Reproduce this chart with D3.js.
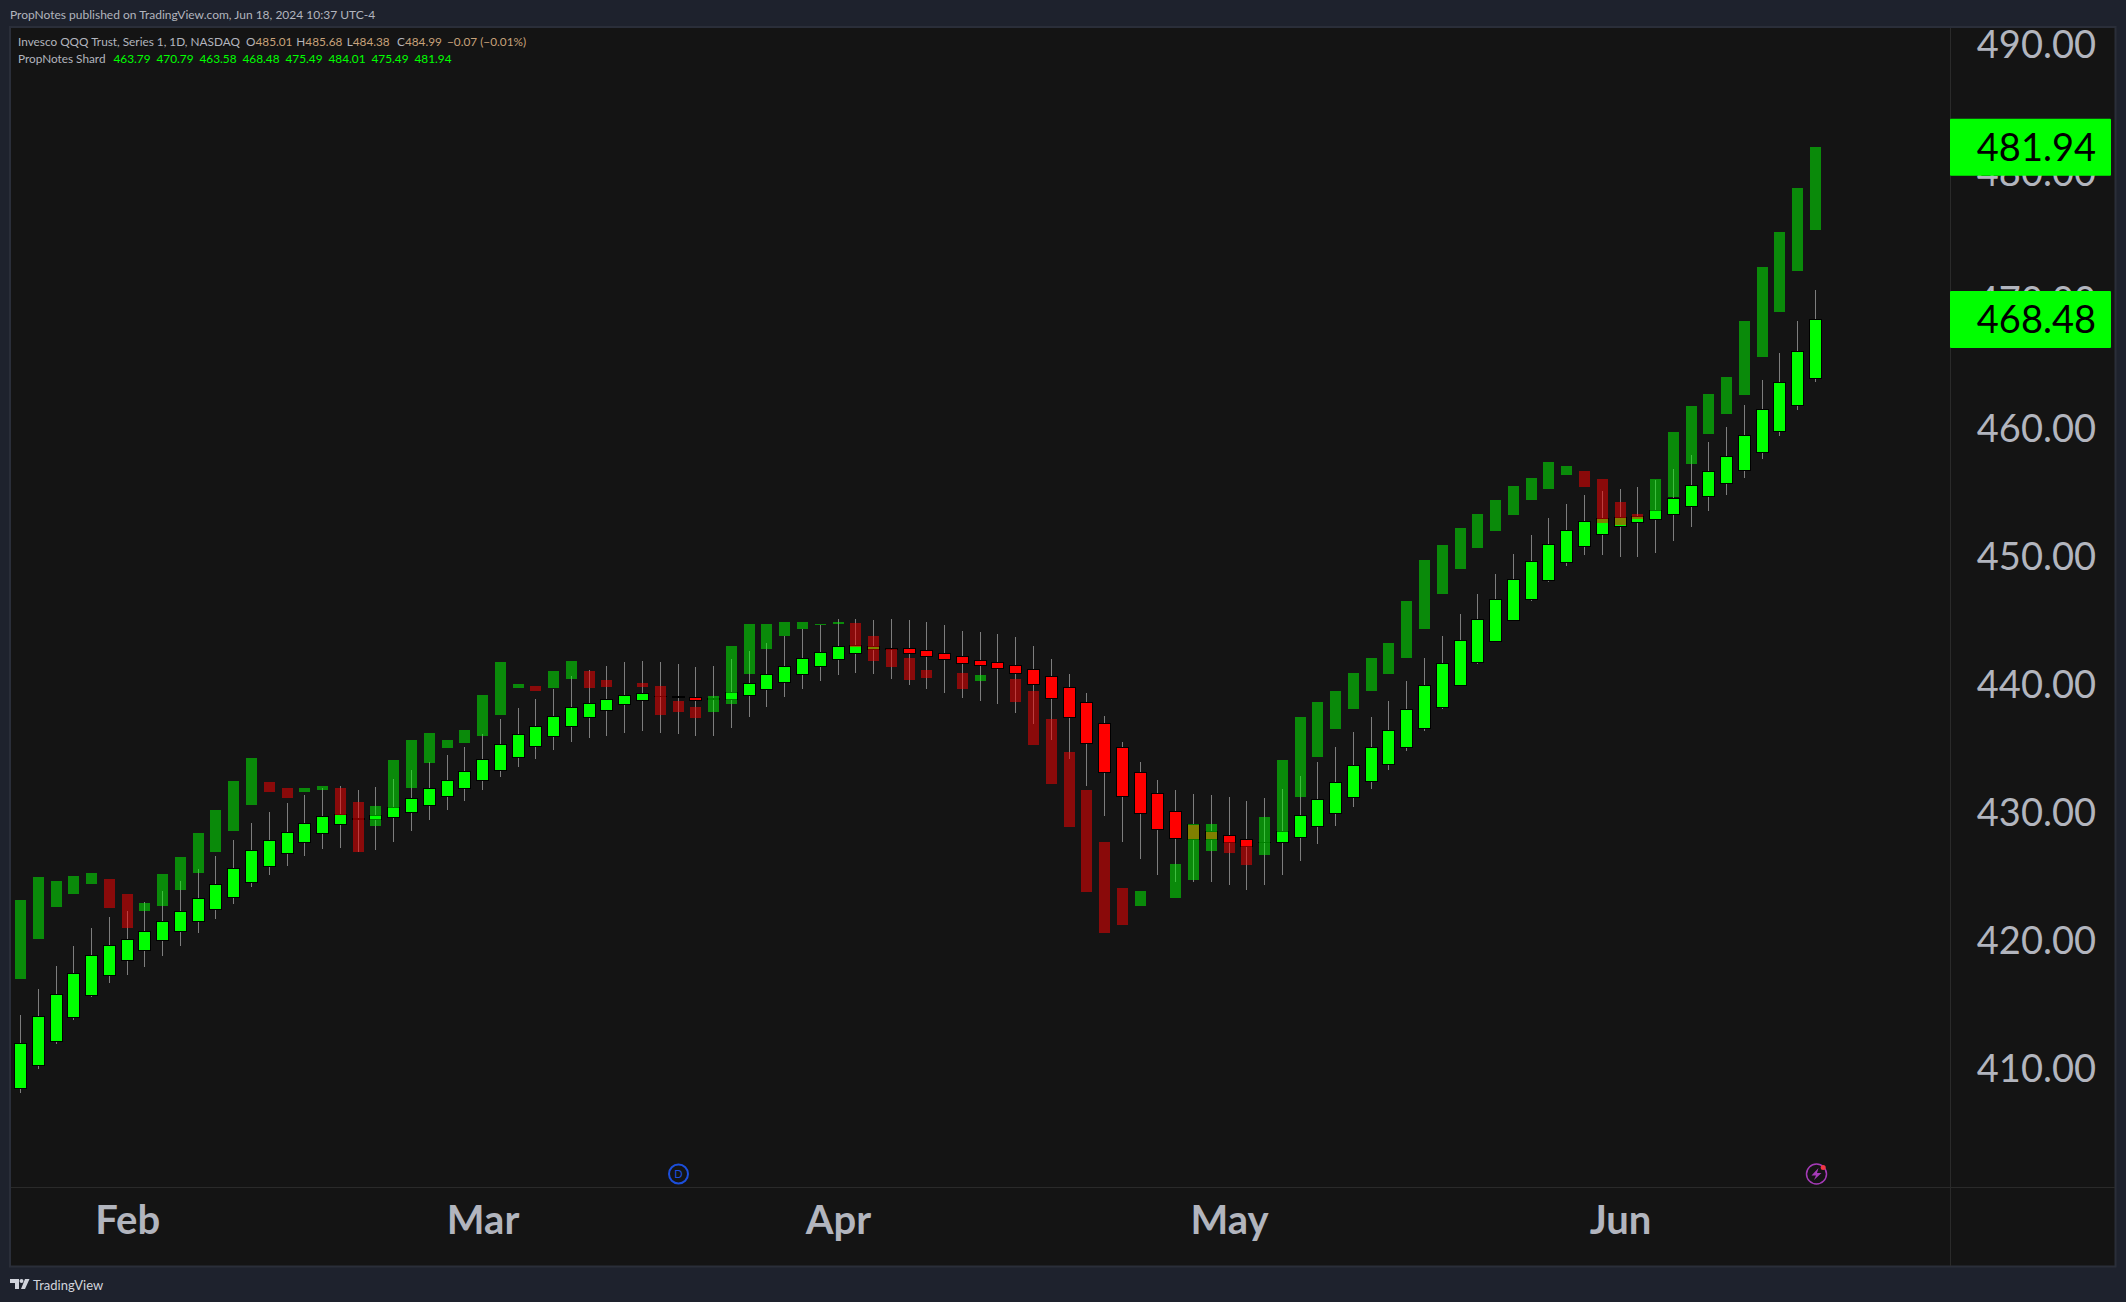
<!DOCTYPE html>
<html>
<head>
<meta charset="utf-8">
<script src="https://d3js.org/d3.v7.min.js"></script>
<style>
  html, body { margin: 0; padding: 0; background: #1e222d; }
  svg { display: block; }
  text { font-family: "Lato", sans-serif; }
</style>
</head>
<body>
<script>
// front candles (Jan 24 - Jun 18, one per trading day)
let frontOpen = [408.39,410.18,412.06,413.93,415.65,417.22,418.39,419.17,419.95,420.65,
  421.43,422.37,423.31,424.48,425.73,426.75,427.61,428.31,429.01,429.38,
  429.38,429.56,429.95,430.50,431.20,431.82,432.45,433.23,434.24,435.10,
  435.88,436.66,437.37,437.91,438.38,438.70,439.06,439.06,438.96,438.75,
  438.75,439.09,439.55,440.10,440.73,441.35,441.90,442.37,442.68,442.81,
  442.78,442.63,442.39,442.16,441.85,441.69,441.46,441.14,440.60,439.74,
  438.57,436.92,435.05,433.10,431.46,430.05,429.06,428.51,428.17,427.86,
  427.58,427.58,427.99,428.85,429.87,431.12,432.37,433.70,435.03,436.51,
  438.15,439.87,441.67,443.31,444.95,446.59,448.07,449.48,450.73,451.67,
  452.29,452.60,452.81,453.23,453.85,454.63,455.65,456.66,458.07,459.71,
  461.69,463.79];
let frontHigh = [414.14,416.17,417.97,419.53,420.94,421.80,422.27,422.97,423.83,424.61,
  425.55,426.56,427.81,429.14,430.00,430.71,431.33,431.88,432.03,431.72,
  431.96,432.58,433.28,433.91,434.45,435.08,436.09,437.26,438.12,438.83,
  439.61,440.62,441.09,441.40,441.72,441.79,441.72,441.56,441.33,441.40,
  441.95,442.58,443.20,443.75,444.29,444.61,445.08,445.08,445.00,445.08,
  445.00,444.84,444.61,444.14,444.06,443.90,443.67,442.97,441.95,440.78,
  439.29,437.50,435.47,433.90,432.50,431.72,431.40,431.33,431.17,430.86,
  431.09,431.79,432.81,433.90,435.08,436.25,437.42,438.67,440.23,442.03,
  443.75,445.47,447.03,448.59,450.16,451.64,452.97,454.06,454.77,455.08,
  455.23,455.39,455.94,456.79,457.89,458.90,460.08,461.79,463.75,465.86,
  468.36,470.79];
let frontLow = [408.08,409.92,411.88,413.75,415.55,416.64,417.27,417.89,418.75,419.53,
  420.55,421.64,422.81,424.14,425.08,425.78,426.56,427.11,427.19,426.88,
  427.03,427.66,428.52,429.38,430.15,430.86,431.72,432.73,433.51,434.14,
  434.84,435.47,435.78,435.93,436.17,436.33,436.17,436.09,435.93,435.93,
  436.56,437.42,438.20,438.98,439.61,440.23,440.70,440.86,440.78,440.39,
  439.92,439.61,439.29,438.90,438.67,438.43,437.73,436.87,435.62,434.14,
  432.03,429.68,427.65,426.33,425.08,424.53,424.53,424.53,424.29,423.90,
  424.29,425.08,426.17,427.50,428.91,430.39,431.80,433.28,434.77,436.33,
  438.05,439.87,441.56,443.31,444.95,446.48,447.97,449.22,450.08,450.08,
  449.92,449.92,450.23,451.17,452.26,453.51,454.76,456.09,457.58,459.37,
  461.40,463.58];
let frontClose = [411.93,414.04,415.76,417.40,418.80,419.59,420.05,420.68,421.46,422.24,
  423.26,424.35,425.60,427.01,427.79,428.41,429.12,429.66,429.82,429.53,
  429.77,430.39,431.07,431.85,432.47,433.17,434.11,435.28,436.07,436.69,
  437.47,438.17,438.49,438.80,439.11,439.27,438.98,438.90,438.67,438.90,
  439.35,440.08,440.78,441.38,442.00,442.47,442.94,443.02,442.97,442.68,
  442.37,442.13,441.90,441.59,441.43,441.20,440.80,439.95,438.85,437.37,
  435.34,433.07,431.20,429.87,428.62,427.91,427.81,427.81,427.58,427.26,
  427.65,428.51,429.74,430.99,432.32,433.65,435.05,436.38,438.02,439.90,
  441.61,443.41,445.05,446.61,448.18,449.58,450.91,452.01,452.71,452.94,
  453.05,453.12,453.57,454.50,455.52,456.61,457.78,459.42,461.46,463.57,
  465.99,468.48];

// second set of OHLC from the indicator, only the bodies are visible
let backOpen = [416.96,420.08,422.58,423.60,424.38,424.77,423.60,422.27,422.66,423.91,
  425.24,426.88,428.52,430.55,432.35,431.88,431.56,431.72,431.88,430.78,
  428.91,430.31,431.88,433.83,435.00,435.39,435.93,437.58,439.68,439.84,
  439.68,440.39,441.01,440.31,438.54,440.08,439.84,438.67,438.20,437.81,
  438.43,440.78,442.73,443.75,444.29,444.61,444.68,444.76,443.75,442.73,
  442.03,441.09,442.26,440.86,440.23,441.56,440.39,439.45,437.26,434.68,
  431.72,427.65,424.06,422.65,430.93,423.28,424.68,426.95,427.63,427.34,
  426.64,428.33,431.17,434.29,436.49,438.05,439.46,440.78,442.03,444.30,
  447.03,448.98,450.62,451.95,453.20,454.37,455.23,456.33,456.64,456.02,
  454.22,453.28,453.52,454.61,457.19,459.53,461.09,462.58,465.54,469.06,
  472.26,475.49];
let backClose = [423.13,424.92,424.61,425.00,425.24,422.50,420.94,422.89,425.16,426.49,
  428.36,430.16,432.42,434.22,431.56,431.10,431.88,432.03,429.77,426.88,
  430.47,434.06,435.63,436.17,435.62,436.40,439.14,441.72,440.00,439.45,
  441.01,441.79,439.68,439.76,438.96,439.76,437.58,437.81,437.34,439.06,
  442.97,444.68,444.68,444.84,444.84,444.68,444.84,442.89,441.79,441.33,
  440.31,440.47,442.00,439.61,440.70,441.33,438.59,435.23,432.18,428.83,
  423.75,420.54,421.17,423.83,429.11,425.93,429.06,429.06,426.79,425.86,
  429.61,434.06,437.42,438.59,439.46,440.86,442.03,443.20,446.48,449.69,
  450.86,452.19,453.28,454.37,455.47,456.09,457.34,457.03,455.39,452.58,
  452.42,452.89,456.02,459.68,461.72,462.65,463.98,468.36,472.58,475.31,
  478.75,481.94];

let priceTicks = [410, 420, 430, 440, 450, 460, 470, 480, 490];
let monthTicks = [6, 26, 46, 68, 90]; // bar index of the first trading day
let monthLabels = ["Feb", "Mar", "Apr", "May", "Jun"];
let lastPrices = [481.94, 468.48];

let titleText = "PropNotes published on TradingView.com, Jun 18, 2024 10:37 UTC-4";
let seriesName = "Invesco QQQ Trust, Series 1, 1D, NASDAQ";
let seriesLetters = ["O", "H", "L", "C"];
let seriesValues = ["485.01", "485.68", "484.38", "484.99"];
let seriesChange = "\u22120.07 (\u22120.01%)";
let shardName = "PropNotes Shard";
let shardValues = ["463.79", "470.79", "463.58", "468.48", "475.49", "484.01", "475.49", "481.94"];

let w = 2126;
let h = 1302;
let green = "#00ff00";
let red = "#ff0000";
let lineColor = "#2a2a2a";
let axisText = "#b2b5be";

let viz = d3.select("body").append("svg").attr("width", w).attr("height", h);

viz.append("rect").attr("width", w).attr("height", h).attr("fill", "#1e222d");
viz.append("rect")
    .attr("x", 10).attr("y", 27).attr("width", 2105.5).attr("height", 1239.5)
    .attr("fill", "#141414")
    .attr("stroke", "#2a2e39")
    .attr("stroke-width", 2);

viz.append("line").attr("x1", 11).attr("x2", 2115).attr("y1", 1187.5).attr("y2", 1187.5).attr("stroke", lineColor);
viz.append("line").attr("x1", 1950.5).attr("x2", 1950.5).attr("y1", 28).attr("y2", 1266).attr("stroke", lineColor);

let xScale = d3.scaleLinear().domain([0, 101]).range([20.5, 1815.5]);
let yScale = d3.scaleLinear().domain([410, 490]).range([1068, 44]);

let bars = frontOpen.map(function(d, i){ return i; });
let cx = i => Math.floor(xScale(i));
let py = p => Math.round(yScale(p));

// axes
let yAxis = d3.axisRight(yScale).tickValues(priceTicks).tickSize(0).tickFormat(d3.format(".2f"));
let yAxisGroup = viz.append("g").attr("transform", "translate(2096,0)").call(yAxis);
yAxisGroup.select(".domain").remove();
yAxisGroup.selectAll("text")
    .attr("x", 0)
    .attr("dy", "0.36em")
    .attr("text-anchor", "end")
    .attr("fill", axisText)
    .style("font-size", "38px");

let xAxis = d3.axisBottom(xScale).tickValues(monthTicks).tickSize(0)
    .tickFormat(function(d, i){ return monthLabels[i]; });
let xAxisGroup = viz.append("g").attr("transform", "translate(0,1198)").call(xAxis);
xAxisGroup.select(".domain").remove();
xAxisGroup.selectAll("text")
    .attr("fill", axisText)
    .attr("y", 0)
    .attr("dy", "0.9em")
    .style("font-size", "40px")
    .style("font-weight", "700");

// front candles
let front = viz.append("g");
front.selectAll(".wick").data(bars).enter().append("rect")
    .attr("class", "wick")
    .attr("x", d => cx(d))
    .attr("width", 1)
    .attr("y", d => py(frontHigh[d]))
    .attr("height", d => py(frontLow[d]) - py(frontHigh[d]))
    .attr("fill", "#7d7d7d");
front.selectAll(".edge").data(bars).enter().append("rect")
    .attr("class", "edge")
    .attr("x", d => cx(d) - 6)
    .attr("width", 13)
    .attr("y", d => py(Math.max(frontOpen[d], frontClose[d])))
    .attr("height", d => Math.max(1, py(Math.min(frontOpen[d], frontClose[d])) - py(Math.max(frontOpen[d], frontClose[d]))))
    .attr("fill", "#000000");
front.selectAll(".fillbody").data(bars).enter().append("rect")
    .attr("class", "fillbody")
    .attr("x", d => cx(d) - 5)
    .attr("width", 11)
    .attr("y", d => py(Math.max(frontOpen[d], frontClose[d])) + 1)
    .attr("height", d => Math.max(0, py(Math.min(frontOpen[d], frontClose[d])) - py(Math.max(frontOpen[d], frontClose[d])) - 2))
    .attr("fill", d => frontClose[d] >= frontOpen[d] ? green : red);

// the shard bodies sit on top, half see-through
viz.append("g").selectAll("rect").data(bars).enter().append("rect")
    .attr("x", d => cx(d) - 5)
    .attr("width", 11)
    .attr("y", d => py(Math.max(backOpen[d], backClose[d])))
    .attr("height", d => Math.max(1, py(Math.min(backOpen[d], backClose[d])) - py(Math.max(backOpen[d], backClose[d]))))
    .attr("fill", d => backClose[d] >= backOpen[d] ? green : red)
    .attr("fill-opacity", 0.5);

// last price tags
let tags = viz.append("g").selectAll("g").data(lastPrices).enter().append("g")
    .attr("transform", d => "translate(1950," + yScale(d) + ")");
tags.append("rect")
    .attr("y", -28.5).attr("width", 161).attr("height", 57).attr("rx", 1)
    .attr("fill", green);
tags.append("text")
    .attr("x", 146).attr("dy", "0.36em")
    .attr("text-anchor", "end")
    .attr("fill", "#000000")
    .style("font-size", "38px")
    .text(d => d3.format(".2f")(d));

// header texts
viz.append("text").attr("x", 10).attr("y", 19).attr("fill", "#b2b5be").style("font-size", "12px").text(titleText);

let legendFont = "11.8px";
let legendOne = viz.append("g").attr("transform", "translate(0,46)");
legendOne.append("text").attr("x", 18).attr("fill", "#b2b5be").style("font-size", legendFont).text(seriesName);
let letterX = d3.scaleLinear().domain([0, 3]).range([246, 397]);
seriesLetters.forEach(function(letter, i){
  let t = legendOne.append("text").attr("x", letterX(i)).style("font-size", legendFont);
  t.append("tspan").attr("fill", "#b2b5be").text(letter);
  t.append("tspan").attr("fill", "#c8a27a").text(seriesValues[i]);
});
legendOne.append("text").attr("x", 447).attr("fill", "#c8a27a").style("font-size", legendFont).text(seriesChange);

let legendTwo = viz.append("g").attr("transform", "translate(0,63)");
legendTwo.append("text").attr("x", 18).attr("fill", "#b2b5be").style("font-size", legendFont).text(shardName);
let shardX = d3.scaleLinear().domain([0, 7]).range([113.5, 414.5]);
legendTwo.selectAll(".shardvalue").data(shardValues).enter().append("text")
    .attr("class", "shardvalue")
    .attr("x", (d, i) => shardX(i))
    .attr("fill", green)
    .style("font-size", legendFont)
    .text(d => d);

// event markers
let dividend = viz.append("g").attr("transform", "translate(678.5,1174)");
dividend.append("circle").attr("r", 9.5).attr("fill", "none").attr("stroke", "#1c4fdb").attr("stroke-width", 2);
dividend.append("text").attr("text-anchor", "middle").attr("dy", "0.36em")
    .attr("fill", "#1c4fdb").style("font-size", "11px").text("D");

let earnings = viz.append("g").attr("transform", "translate(1816.5,1174)");
earnings.append("circle").attr("r", 10).attr("fill", "none").attr("stroke", "#a63bb8").attr("stroke-width", 1.5);
earnings.append("path").attr("d", "M2,-6 L-5,1.5 L-0.5,1.5 L-2.5,6 L5,-1 L0.5,-1 Z").attr("fill", "#a63bb8");
earnings.append("circle").attr("cx", 6.7).attr("cy", -6.5).attr("r", 2.5).attr("fill", "#f23645");

// tradingview mark
viz.append("path")
    .attr("d", "M10,1279 H19 V1289 H15 V1283 H10 Z M25,1279 H29.5 L25,1289 H21 Z")
    .attr("fill", "#d1d4dc");
viz.append("circle").attr("cx", 21.5).attr("cy", 1281).attr("r", 2).attr("fill", "#d1d4dc");
viz.append("text").attr("x", 33).attr("y", 1289.5).attr("fill", "#d1d4dc").style("font-size", "13px").text("TradingView");
</script>
</body>
</html>
